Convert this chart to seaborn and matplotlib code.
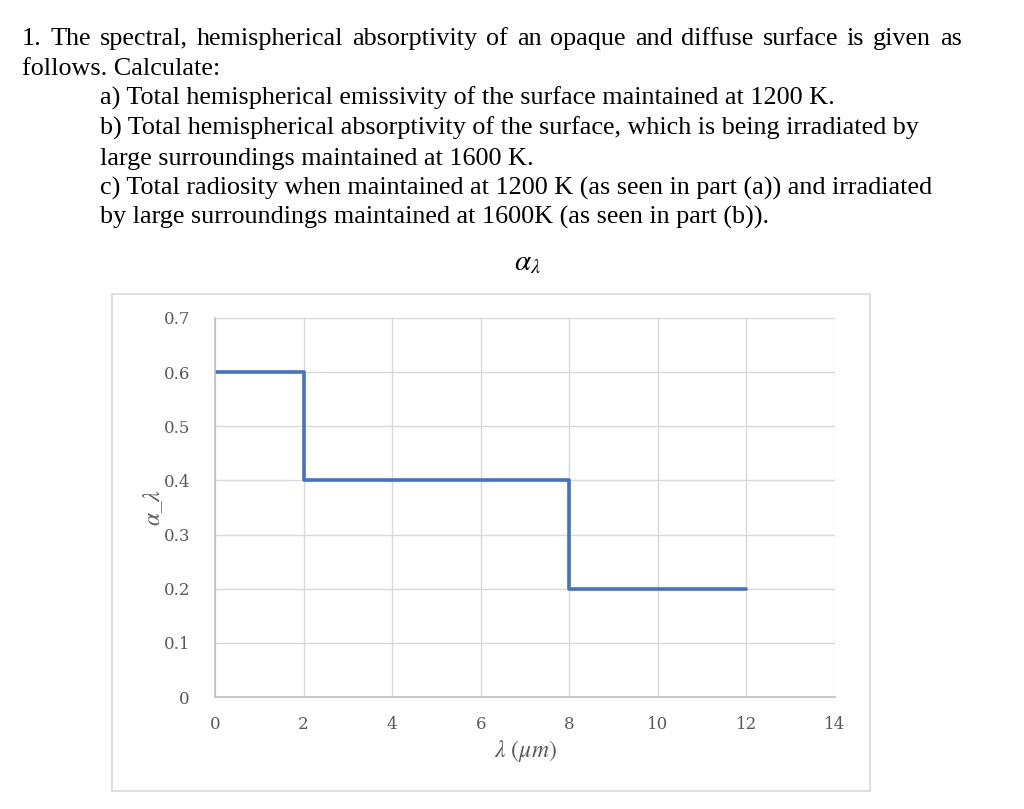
import matplotlib
matplotlib.use("Agg")
import matplotlib.pyplot as plt
import seaborn as sns
import pandas as pd
from matplotlib.patches import Rectangle

# ---- data ----
wavelength = [0, 2, 8, 12]          # band edges (um)
alpha_vals = [0.6, 0.4, 0.2, 0.2]   # absorptivity in each band (steps-post)
x_ticks = [0, 2, 4, 6, 8, 10, 12, 14]
y_ticks = [0, 0.1, 0.2, 0.3, 0.4, 0.5, 0.6, 0.7]
y_tick_labels = ["0", "0.1", "0.2", "0.3", "0.4", "0.5", "0.6", "0.7"]

line1 = "1. The spectral, hemispherical absorptivity of an opaque and diffuse surface is given as"
other_lines = [
    (22, "follows. Calculate:"),
    (100, "a) Total hemispherical emissivity of the surface maintained at 1200 K."),
    (100, "b) Total hemispherical absorptivity of the surface, which is being irradiated by"),
    (100, "large surroundings maintained at 1600 K."),
    (100, "c) Total radiosity when maintained at 1200 K (as seen in part (a)) and irradiated"),
    (100, "by large surroundings maintained at 1600K (as seen in part (b))."),
]

sns.set_theme(style="white")
plt.rcParams["mathtext.fontset"] = "stix"
W, H = 1024, 809
fig = plt.figure(figsize=(W / 100, H / 100), dpi=100)
fig.patch.set_facecolor("white")

def fx(px):
    return px / W

def fy(py):
    return 1 - py / H

doc_font = dict(family="Liberation Serif", size=18.8, color="black")
grey = "#595959"

# chart border
fig.patches.append(Rectangle((fx(112), fy(791)), fx(870) - fx(112), fy(294) - fy(791),
                             transform=fig.transFigure, fill=False, edgecolor="#d9d9d9",
                             linewidth=1.2))

ax = fig.add_axes([fx(215), fy(697), fx(835) - fx(215), fy(318) - fy(697)])
df = pd.DataFrame({"wavelength": wavelength, "alpha": alpha_vals})
sns.lineplot(data=df, x="wavelength", y="alpha", ax=ax, color="#4472C4",
             linewidth=2.6, drawstyle="steps-post", estimator=None, sort=False)

ax.set_xlim(0, 14)
ax.set_ylim(0, 0.7)
ax.set_xticks(x_ticks)
ax.set_xticklabels([str(t) for t in x_ticks])
ax.set_yticks(y_ticks)
ax.set_yticklabels(y_tick_labels)
ax.grid(True, color="#d9d9d9", linewidth=1.0)
ax.set_axisbelow(True)
for s in ["top", "right"]:
    ax.spines[s].set_visible(False)
for s in ["left", "bottom"]:
    ax.spines[s].set_color("#bfbfbf")
    ax.spines[s].set_linewidth(1.2)
ax.tick_params(axis="both", length=0, labelcolor=grey)
ax.tick_params(axis="x", pad=14)
ax.tick_params(axis="y", pad=18)
for lab in ax.get_xticklabels() + ax.get_yticklabels():
    lab.set_family("DejaVu Serif")
    lab.set_fontsize(12)
ax.set_xlabel("")
ax.set_ylabel("")

fig.text(fx(525), fy(751), r"$\lambda\ (\mu m)$", fontsize=17, color=grey,
         ha="center", va="center")
fig.text(fx(153), fy(507), r"$\alpha\_\lambda$", fontsize=17, color=grey,
         ha="center", va="center", rotation=90)
fig.text(fx(527), fy(262), r"$\alpha_\lambda$", fontsize=21, color="black",
         ha="center", va="center")

# document text
fig.canvas.draw()
renderer = fig.canvas.get_renderer()
words = line1.split(" ")
widths = []
for w in words:
    t = fig.text(0, 0, w, **doc_font)
    bb = t.get_window_extent(renderer)
    widths.append(bb.width)
    t.remove()
left, right = 22, 962
gap = (right - left - sum(widths)) / (len(words) - 1)
x = left
for w, wd in zip(words, widths):
    fig.text(fx(x), fy(45), w, ha="left", va="baseline", **doc_font)
    x += wd + gap

baselines = [75, 105, 135, 165, 195, 224]
for (xp, txt), yb in zip(other_lines, baselines):
    fig.text(fx(xp), fy(yb), txt, ha="left", va="baseline", **doc_font)

fig.savefig("out.png", dpi=100, facecolor="white")
